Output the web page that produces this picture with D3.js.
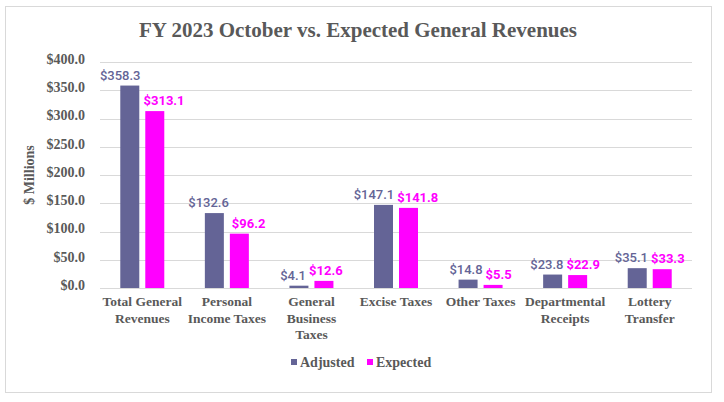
<!DOCTYPE html>
<html>
<head>
<meta charset="utf-8">
<script src="https://cdn.jsdelivr.net/npm/d3@7"></script>
<style>
  body { margin: 0; background: #fff; }
  svg { display: block; }
  .serif { font-family: "Liberation Serif", "Times New Roman", serif; font-weight: bold; fill: #595959; }
  .lbl { font-family: Roboto, "Noto Sans", sans-serif; font-size: 13px; }
</style>
</head>
<body>
<svg id="chart" width="724" height="402"></svg>
<script>
const categories = [
    ['Total General', 'Revenues'],
    ['Personal', 'Income Taxes'],
    ['General', 'Business', 'Taxes'],
    ['Excise Taxes'],
    ['Other Taxes'],
    ['Departmental', 'Receipts'],
    ['Lottery', 'Transfer'],
]
const adjusted = [358.3, 132.6, 4.1, 147.1, 14.8, 23.8, 35.1]
const expected = [313.1, 96.2, 12.6, 141.8, 5.5, 22.9, 33.3]
const yTicks = [0, 50, 100, 150, 200, 250, 300, 350, 400]
const seriesNames = ['Adjusted', 'Expected']
const colors = ['#646496', '#FF00FF']

const svg = d3.select('#chart')
const margin = { left: 100, right: 32, top: 62, bottom: 114 }
const width = 724, height = 402
const fmt = d => '$' + d3.format('.1f')(d)

// рамка графика
svg.append('rect')
    .attr('x', 5.5).attr('y', 6.5)
    .attr('width', 706).attr('height', 386)
    .attr('fill', '#fff').attr('stroke', '#d9d9d9')

svg.append('text')
    .attr('class', 'serif')
    .attr('x', 358).attr('y', 37)
    .attr('text-anchor', 'middle')
    .style('font-size', '21px')
    .text('FY 2023 October vs. Expected General Revenues')

const x = d3.scaleBand()
    .domain(d3.range(categories.length))
    .range([margin.left, width - margin.right])

// две полосы по 19px с зазором 6px, по центру категории
const x1 = d3.scaleBand()
    .domain([0, 1])
    .range([x.bandwidth() / 2 - 22, x.bandwidth() / 2 + 22])
    .paddingInner(0.24)

const y = d3.scaleLinear()
    .domain([0, 400])
    .range([height - margin.bottom, margin.top])

// сетка
svg.append('g')
    .selectAll('line')
    .data(yTicks)
    .join('line')
    .attr('x1', margin.left).attr('x2', width - margin.right)
    .attr('y1', d => Math.round(y(d)) + 0.5).attr('y2', d => Math.round(y(d)) + 0.5)
    .attr('stroke', '#d9d9d9')

const yAxis = svg.append('g')
    .attr('transform', `translate(${margin.left - 15},-3)`)
    .call(d3.axisLeft(y).tickValues(yTicks).tickSize(0).tickFormat(fmt))
yAxis.select('.domain').remove()
yAxis.selectAll('text')
    .attr('class', 'serif')
    .attr('x', 0)
    .style('font-size', '14px')

svg.append('text')
    .attr('class', 'serif')
    .attr('transform', `translate(34,${(y(0) + y(400)) / 2}) rotate(-90)`)
    .attr('text-anchor', 'middle')
    .style('font-size', '14px')
    .text('$ Millions')

const series = [adjusted, expected]
const labels = []
series.forEach((vals, s) => {
    svg.append('g')
        .selectAll('rect')
        .data(vals)
        .join('rect')
        .attr('x', (d, i) => x(i) + x1(s))
        .attr('width', x1.bandwidth())
        .attr('y', d => y(d))
        .attr('height', d => y(0) - y(d))
        .attr('fill', colors[s])

    labels[s] = svg.append('g')
        .selectAll('text')
        .data(vals)
        .join('text')
        .attr('class', 'lbl')
        .attr('x', (d, i) => x(i) + x1(s) + x1.bandwidth() / 2)
        .attr('y', d => y(d) - 6)
        .attr('text-anchor', 'middle')
        .attr('fill', colors[s])
        .style('font-weight', s === 0 ? 500 : 'bold')
        .text(fmt)
})

// раздвигаем подписи, если они налезают друг на друга
const gap = 3
categories.forEach((c, i) => {
    const a = labels[0].nodes()[i], b = labels[1].nodes()[i]
    const wa = a.getComputedTextLength(), wb = b.getComputedTextLength()
    const ca = +a.getAttribute('x'), cb = +b.getAttribute('x')
    if (ca + wa / 2 + gap > cb - wb / 2) {
        const mid = x(i) + x.bandwidth() / 2
        const total = wa + gap + wb
        const left = mid - total / 2
        a.setAttribute('x', left + wa / 2)
        b.setAttribute('x', left + wa + gap + wb / 2)
    }
})

// подписи категорий
const xl = svg.append('g')
    .selectAll('text')
    .data(categories)
    .join('text')
    .attr('class', 'serif')
    .attr('text-anchor', 'middle')
    .style('font-size', '13.5px')
    .attr('x', (d, i) => x(i) + x.bandwidth() / 2)
    .attr('y', y(0) + 18)
xl.selectAll('tspan')
    .data(d => d)
    .join('tspan')
    .attr('x', function () { return this.parentNode.getAttribute('x') })
    .attr('dy', (d, i) => i === 0 ? 0 : 16.5)
    .text(d => d)

// легенда
const legend = svg.append('g')
const legendX = [291, 367]
seriesNames.forEach((name, i) => {
    legend.append('rect')
        .attr('x', legendX[i]).attr('y', 359)
        .attr('width', 6).attr('height', 6)
        .attr('fill', colors[i])
    legend.append('text')
        .attr('class', 'serif')
        .attr('x', legendX[i] + 9).attr('y', 367)
        .style('font-size', '14px')
        .text(name)
})
</script>
</body>
</html>
